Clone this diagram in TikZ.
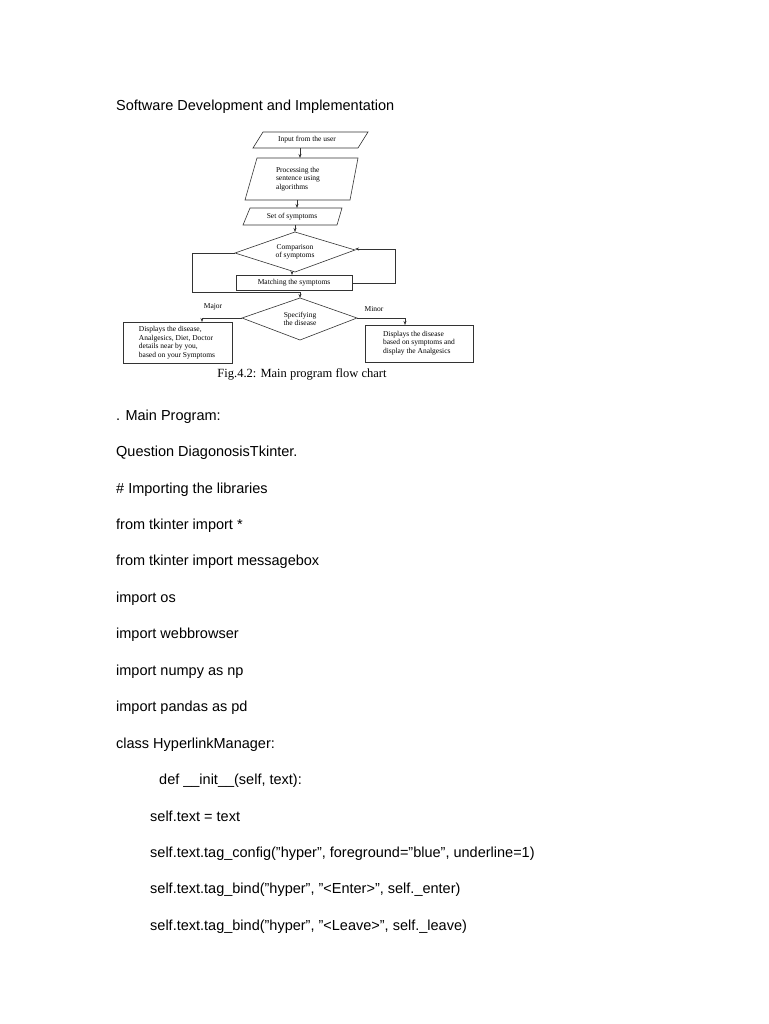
\documentclass[tikz,border=0pt]{standalone}
\usepackage{fontspec}
\setmainfont{Liberation Sans}
\newfontfamily\tms{Liberation Serif}
\usetikzlibrary{arrows.meta}
\begin{document}
\begin{tikzpicture}[x=1pt,y=-1pt,
  line/.style={draw=black!80,line width=0.6pt},
  arr/.style={line,-{Stealth[length=4pt,width=3pt]}},
  fc/.style={font=\tms\fontsize{7.5}{8.5}\selectfont,align=left},
  ptxt/.style={anchor=base west,font=\fontsize{14.5}{16}\selectfont,inner sep=0pt}]
\useasboundingbox (0,0) rectangle (768,1024);
\fill[white] (0,0) rectangle (768,1024);
% page text
\node[ptxt] (t0) at (116,111) {Software Development and Implementation};
\node[ptxt] (t1) at (116,420) {. Main Program:};
\node[ptxt] (t2) at (116,456) {Question DiagonosisTkinter.};
\node[ptxt] (t3) at (116,493) {\# Importing the libraries};
\node[ptxt] (t4) at (116,529) {from tkinter import *};
\node[ptxt] (t5) at (116,565) {from tkinter import messagebox};
\node[ptxt] (t6) at (116,602) {import os};
\node[ptxt] (t7) at (116,638) {import webbrowser};
\node[ptxt] (t8) at (116,675) {import numpy as np};
\node[ptxt] (t9) at (116,711) {import pandas as pd};
\node[ptxt] (t10) at (116,748) {class HyperlinkManager:};
\node[ptxt] (t11) at (159,784) {def \_\_init\_\_(self, text):};
\node[ptxt] (t12) at (150,821) {self.text = text};
\node[ptxt] (t13) at (150,857) {self.text.tag\_config("hyper", foreground="blue", underline=1)};
\node[ptxt] (t14) at (150,893) {self.text.tag\_bind("hyper", "<Enter>", self.\_enter)};
\node[ptxt] (t15) at (150,930) {self.text.tag\_bind("hyper", "<Leave>", self.\_leave)};
% flowchart shapes
\draw[line] (253,148) -- (263,132) -- (368,132) -- (358,148) -- cycle;
\node[fc] (inp) at (307,140) {Input from the user};
\draw[line] (245,200) -- (257,158) -- (358,158) -- (350,200) -- cycle;
\node[fc] (proc) at (298,179) {Processing the\\sentence using\\algorithms};
\draw[line] (243,225) -- (250,208) -- (342,208) -- (337,225) -- cycle;
\node[fc] (set) at (292,216.5) {Set of symptoms};
\draw[line] (295,232) -- (355,250) -- (295,272) -- (235,253) -- cycle;
\node[fc,align=center] (cmp) at (295,252) {Comparison\\of symptoms};
\draw[line] (236,275) rectangle (352,290);
\node[fc] (mat) at (294,282.5) {Matching the symptoms};
\draw[line] (300,298) -- (357,318) -- (300,340) -- (242,318) -- cycle;
\node[fc,align=center] (spec) at (300,319) {Specifying\\the disease};
\draw[line] (123,322) rectangle (232,363);
\node[fc] (lb) at (177,342.5) {Displays the disease,\\Analgesics, Diet, Doctor\\details near by you,\\based on your Symptoms};
\draw[line] (365,325) rectangle (473,362);
\node[fc] (rb) at (419,343) {Displays the disease\\based on symptoms and\\display the Analgesics};
% connectors
\coordinate (a1) at (300,148); \coordinate (a2) at (300,158);
\draw[arr] (a1) -- (a2);
\coordinate (b1) at (297,200); \coordinate (b2) at (297,208);
\draw[arr] (b1) -- (b2);
\coordinate (c1) at (295,225); \coordinate (c2) at (295,232);
\draw[arr] (c1) -- (c2);
\coordinate (d1) at (292,272); \coordinate (d2) at (292,275);
\draw[arr] (d1) -- (d2);
\coordinate (l1) at (235,253); \coordinate (l2) at (192,253); \coordinate (l3) at (192,292); \coordinate (l4) at (300,292); \coordinate (l5) at (300,298);
\draw[line] (l1) -- (l2) -- (l3) -- (l4);
\draw[arr] (l4) -- (l5);
\coordinate (r1) at (352,283); \coordinate (r2) at (395,283); \coordinate (r3) at (395,249); \coordinate (r4) at (355,249);
\draw[arr] (r1) -- (r2) -- (r3) -- (r4);
\coordinate (m1) at (242,318); \coordinate (m2) at (202,318); \coordinate (m3) at (202,322);
\draw[arr] (m1) -- (m2) -- (m3);
\coordinate (n1) at (357,318); \coordinate (n2) at (405,318); \coordinate (n3) at (405,325);
\draw[arr] (n1) -- (n2) -- (n3);
\node[fc] (maj) at (213,307) {Major};
\node[fc] (min) at (374,309) {Minor};
\node[font=\tms\fontsize{12.5}{14}\selectfont,inner sep=0pt] (cap) at (302,374) {Fig.4.2: Main program flow chart};
\end{tikzpicture}
\end{document}
